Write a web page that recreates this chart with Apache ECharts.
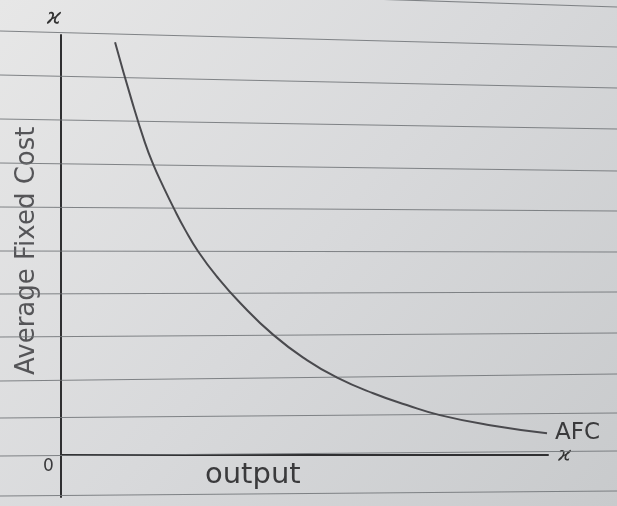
<!DOCTYPE html>
<html>
<head>
<meta charset="utf-8">
<script src="https://cdn.jsdelivr.net/npm/echarts@6/dist/echarts.min.js"></script>
<style>
html,body{margin:0;padding:0;width:617px;height:506px;overflow:hidden;}
#chart{width:617px;height:506px;}
</style>
</head>
<body>
<div id="chart"></div>
<script>
// AFC curve (output on x, average fixed cost on y)
const outputValues = [11.1, 14.5, 17.2, 19.0, 21.0, 23.1, 25.5, 28.2, 32.0, 36.8, 43.6, 50.5, 56.6, 64.1, 71.0, 77.8, 88.1, 99.8];
const afcValues    = [98.3, 84.5, 74.5, 69.0, 63.9, 58.9, 53.6, 48.4, 42.5, 36.2, 28.6, 22.6, 18.5, 14.7, 11.9, 9.5, 7.1, 5.2];
const seriesName = "AFC";
const yAxisTitle = "Average Fixed Cost";
const xAxisTitle = "output";
const originLabel = "0";
const axisEndLabel = "ϰ";

// ruled paper lines: y at left edge and right edge of the page
const ruleLeftY  = [-13, 31, 75, 119, 163, 207, 251, 294, 337, 381, 418, 456, 496];
const ruleRightY = [7, 47, 88, 129, 171, 211, 252, 292, 333, 374, 413, 451, 491];

const chart = echarts.init(document.getElementById('chart'), null, {renderer: 'canvas'});

const curveData = outputValues.map((x, i) => [x, afcValues[i]]);
const ruleSeries = ruleLeftY.map((ly, i) => ({
  type: 'line', xAxisIndex: 1, yAxisIndex: 1, silent: true, symbol: 'none',
  z: 1,
  lineStyle: {color: '#6f7276', width: 1.1, opacity: 0.85},
  data: [[0, ly], [617, ruleRightY[i]]]
}));

const hand = '"DejaVu Sans", sans-serif';

chart.setOption({
  animation: false,
  backgroundColor: {
    type: 'linear', x: 0, y: 0, x2: 1, y2: 1,
    colorStops: [
      {offset: 0, color: '#e7e7e7'},
      {offset: 0.5, color: '#d8d9db'},
      {offset: 1, color: '#c8cacc'}
    ]
  },
  grid: [
    {left: 61, right: 69, top: 35, bottom: 9},
    {left: 0, right: 0, top: 0, bottom: 0}
  ],
  xAxis: [
    {type: 'value', gridIndex: 0, min: 0, max: 100, interval: 10,
     axisLine: {show: true, onZero: true, lineStyle: {color: '#2f2f31', width: 2}},
     axisTick: {show: false}, axisLabel: {show: false}, splitLine: {show: false},
     name: axisEndLabel, nameLocation: 'end', nameGap: 10,
     nameTextStyle: {fontFamily: hand, fontSize: 20, color: '#333', fontStyle: 'italic', verticalAlign: 'middle', padding: [6, 0, 0, 0]}},
    {type: 'value', gridIndex: 1, min: 0, max: 617, show: false}
  ],
  yAxis: [
    {type: 'value', gridIndex: 0, min: -10, max: 100, interval: 10,
     axisLine: {show: true, onZero: true, lineStyle: {color: '#2f2f31', width: 2}},
     axisTick: {show: false}, axisLabel: {show: false}, splitLine: {show: false},
     name: axisEndLabel, nameLocation: 'end', nameGap: 6,
     nameTextStyle: {fontFamily: hand, fontSize: 22, color: '#333', fontStyle: 'italic', align: 'center', padding: [0, 14, 0, 0]}},
    {type: 'value', gridIndex: 1, min: 0, max: 506, inverse: true, show: false}
  ],
  series: [
    ...ruleSeries,
    {
      name: seriesName, type: 'line', xAxisIndex: 0, yAxisIndex: 0,
      data: curveData, smooth: 0.5, symbol: 'none', z: 5,
      lineStyle: {color: '#4a4a4e', width: 2},
      endLabel: {show: true, formatter: seriesName, fontFamily: hand, fontSize: 23, color: '#3a3a3c', distance: 8}
    }
  ],
  graphic: [
    {type: 'text', x: 14, y: 375, rotation: Math.PI / 2,
     style: {text: yAxisTitle, fontFamily: hand, fontSize: 26, fill: '#555558'}},
    {type: 'text', x: 205, y: 461,
     style: {text: xAxisTitle, fontFamily: hand, fontSize: 29, fill: '#3a3a3c'}},
    {type: 'text', x: 43, y: 458,
     style: {text: originLabel, fontFamily: hand, fontSize: 17, fill: '#3a3a3c'}}
  ]
});
</script>
</body>
</html>
